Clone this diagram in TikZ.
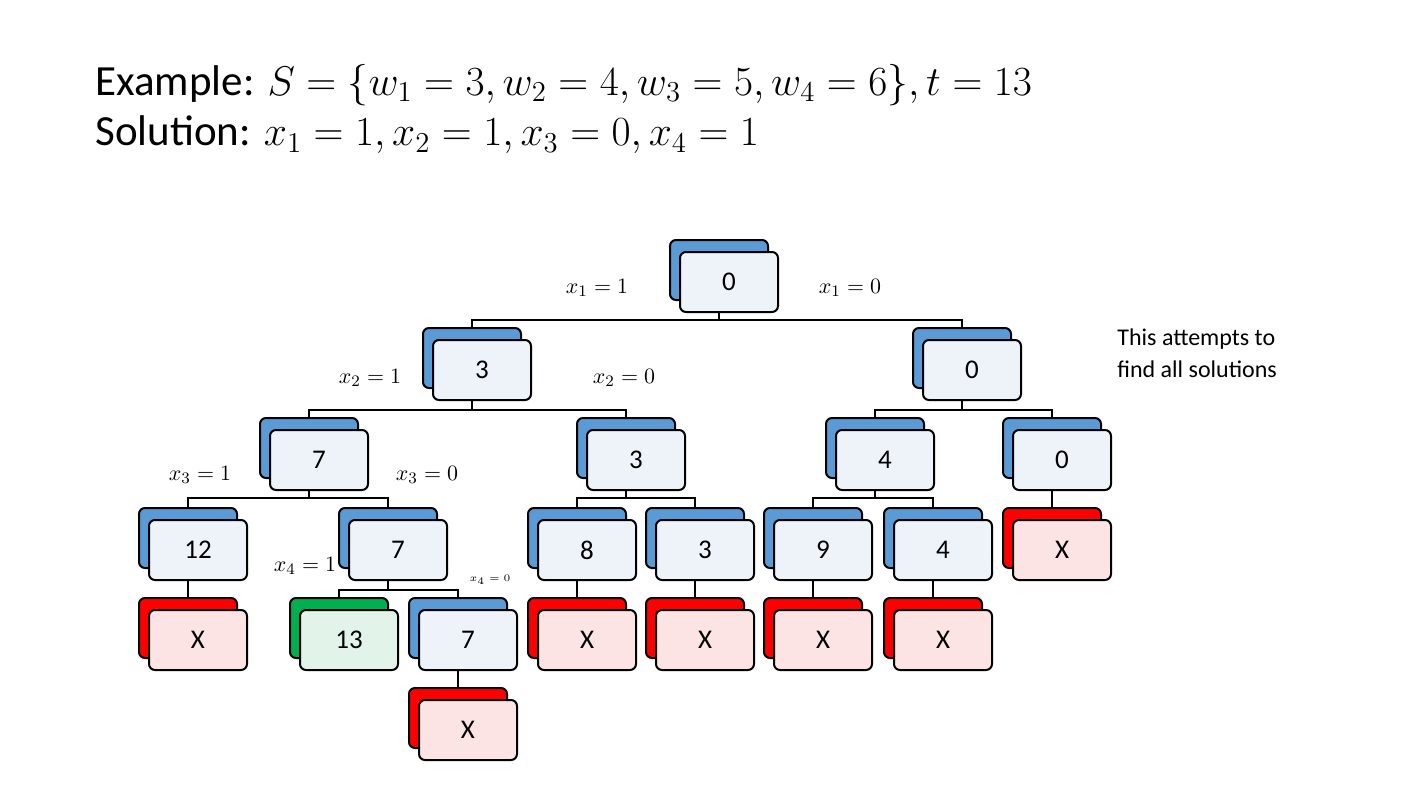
\documentclass[tikz,border=0pt]{standalone}
\usepackage{fontspec}
\setmainfont{Carlito}
\usetikzlibrary{calc}
\begin{document}
\begin{tikzpicture}[x=0.5pt,y=-0.5pt,
  box/.style={draw=black,line width=1pt,rounded corners=3pt,minimum width=49pt,minimum height=30pt,inner sep=0pt,font=\fontsize{13.5}{15}\selectfont},
  lab/.style={font=\fontsize{11}{13}\selectfont}]
\useasboundingbox (0,0) rectangle (1407,788);
\definecolor{bb}{HTML}{5B9BD5}\definecolor{bf}{HTML}{EEF3FA}
\definecolor{rb}{HTML}{FF0000}\definecolor{rf}{HTML}{FCE4E4}
\definecolor{gb}{HTML}{00B050}\definecolor{gf}{HTML}{E2F4EA}
\newcommand\tn[5]{\node[box,fill=#4b] (#1-b) at ($(#2,#3)+(-10,-12)$) {};
  \node[box,fill=#4f] (#1) at (#2,#3) {#5};}
\newcommand\ed[3]{\draw[line width=1pt] (#1-b.center |- #1.south) -- (#1-b.center |- 0,#3) -| (#2-b.north);}
\node[anchor=west,inner sep=0pt,font=\fontsize{21.5}{26}\selectfont] (t1) at (95,85) {Example: $S=\{w_1=3,w_2=4,w_3=5,w_4=6\},t=13$};
\node[anchor=west,inner sep=0pt,font=\fontsize{21.5}{26}\selectfont] (t2) at (95,135) {Solution: $x_1=1,x_2=1,x_3=0,x_4=1$};
\node[anchor=north west,inner sep=0pt,align=left,font=\fontsize{12}{16}\selectfont] (note) at (1117,328) {This attempts to\\find all solutions};
\tn{r}{729}{282}{b}{0}
\tn{a}{482}{370}{b}{3}\tn{b}{972}{370}{b}{0}
\tn{c}{319}{460}{b}{7}\tn{d}{636}{460}{b}{3}\tn{e}{885}{460}{b}{4}\tn{f}{1062}{460}{b}{0}
\tn{g}{198}{550}{b}{12}\tn{h}{398}{550}{b}{7}\tn{i}{587}{550}{b}{8}\tn{j}{705}{550}{b}{3}
\tn{k}{823}{550}{b}{9}\tn{l}{943}{550}{b}{4}\tn{m}{1062}{550}{r}{X}
\tn{n}{198}{640}{r}{X}\tn{o}{349}{640}{g}{13}\tn{p}{468}{640}{b}{7}
\tn{q}{587}{640}{r}{X}\tn{s}{705}{640}{r}{X}\tn{u}{823}{640}{r}{X}\tn{v}{943}{640}{r}{X}
\tn{w}{468}{730}{r}{X}
\ed{r}{a}{320}\ed{r}{b}{320}
\ed{a}{c}{410}\ed{a}{d}{410}
\ed{b}{e}{410}\ed{b}{f}{410}
\ed{c}{g}{498}\ed{c}{h}{498}
\ed{d}{i}{498}\ed{d}{j}{498}
\ed{e}{k}{498}\ed{e}{l}{498}
\ed{f}{m}{498}
\ed{g}{n}{590}\ed{h}{o}{590}\ed{h}{p}{590}
\ed{i}{q}{590}\ed{j}{s}{590}\ed{k}{u}{590}\ed{l}{v}{590}
\ed{p}{w}{680}
\node[lab] (l1) at (597,288) {$x_1=1$};
\node[lab] (l2) at (850,288) {$x_1=0$};
\node[lab] (l3) at (370,378) {$x_2=1$};
\node[lab] (l4) at (624,378) {$x_2=0$};
\node[lab] (l5) at (200,475) {$x_3=1$};
\node[lab] (l6) at (427,475) {$x_3=0$};
\node[lab] (l7) at (305,566) {$x_4=1$};
\node[font=\fontsize{5.5}{6}\selectfont] (l8) at (490,580) {$x_4=0$};
\end{tikzpicture}
\end{document}
